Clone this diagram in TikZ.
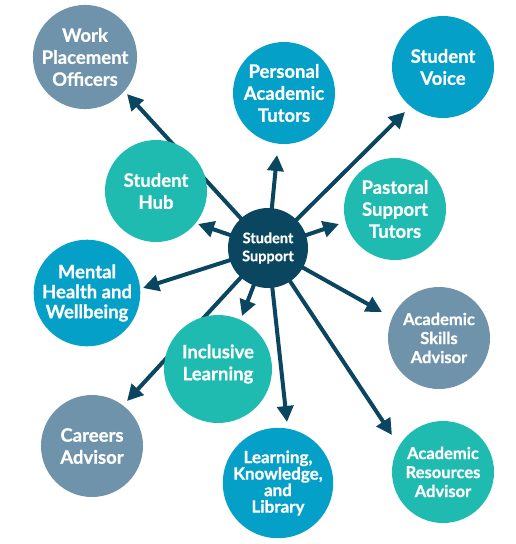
\documentclass[tikz,border=0pt]{standalone}
\usepackage{fontspec}
\setmainfont{Lato}[BoldFeatures={FakeBold=0.8}]
\usetikzlibrary{arrows.meta,backgrounds}
\definecolor{navy}{HTML}{0B4660}
\definecolor{cblue}{HTML}{05A0C8}
\definecolor{cteal}{HTML}{20BBB0}
\definecolor{cgrey}{HTML}{6E93AB}
\tikzset{
  bub/.style={circle,inner sep=0pt,minimum size=102pt,text=white,align=center,
    font=\fontsize{18.5}{22}\selectfont\bfseries},
  small/.style={font=\fontsize{16.5}{19}\selectfont\bfseries},
  con/.style={draw=navy,line width=4pt,-{Triangle[length=16pt,width=16pt]}}
}
\begin{document}
\begin{tikzpicture}[x=1pt,y=-1pt]
\useasboundingbox (0,0) rectangle (516,544);
\node[bub,fill=cgrey] (wpo) at (85,57) {Work\\Placement\\Officers};
\node[bub,fill=cblue] (pat) at (284,93) {Personal\\Academic\\Tutors};
\node[bub,fill=cblue] (sv) at (443,67) {Student\\Voice};
\node[bub,fill=cteal] (hub) at (156,191) {Student\\Hub};
\node[bub,fill=cteal] (pst) at (395,209) {Pastoral\\Support\\Tutors};
\node[bub,fill=cblue,font=\fontsize{18.5}{20}\selectfont\bfseries] (mhw) at (87,293) {Mental\\Health and\\Wellbeing};
\node[bub,fill=cteal,minimum size=108pt,
  label={[text=white,align=center,font=\fontsize{18.5}{22}\selectfont\bfseries,yshift=5pt]center:Inclusive\\Learning}] (inc) at (218,369) {};
\node[bub,small,fill=cgrey] (asa) at (439,338) {Academic\\Skills\\Advisor};
\node[bub,fill=cgrey] (car) at (92,446) {Careers\\Advisor};
\node[bub,fill=cblue,font=\fontsize{17}{16.5}\selectfont\bfseries] (lkl) at (278,483) {Learning,\\Knowledge,\\and\\Library};
\node[bub,small,fill=cteal] (ara) at (443,472) {Academic\\Resources\\Advisor};
\node[circle,inner sep=0pt,minimum size=80pt,fill=navy,text=white,align=center,
  font=\fontsize{14.5}{18}\selectfont\bfseries] (ss) at (268,248) {Student\\Support};
\coordinate (twpo) at (127,94);
\coordinate (thub) at (198,224);
\coordinate (tpat) at (277,155);
\coordinate (tsv) at (405,112);
\coordinate (tpst) at (339,224);
\coordinate (tmhw) at (143,288);
\coordinate (tcar) at (127,401);
\coordinate (tinc) at (242,316);
\coordinate (tasa) at (382,312);
\coordinate (tlkl) at (287,422);
\coordinate (tara) at (392,435);
\begin{scope}[on background layer]
\foreach \t in {twpo,thub,tpat,tsv,tpst,tmhw,tcar,tinc,tasa,tlkl,tara}
  \draw[con] (ss.center) -- (\t);
\end{scope}
\end{tikzpicture}
\end{document}
